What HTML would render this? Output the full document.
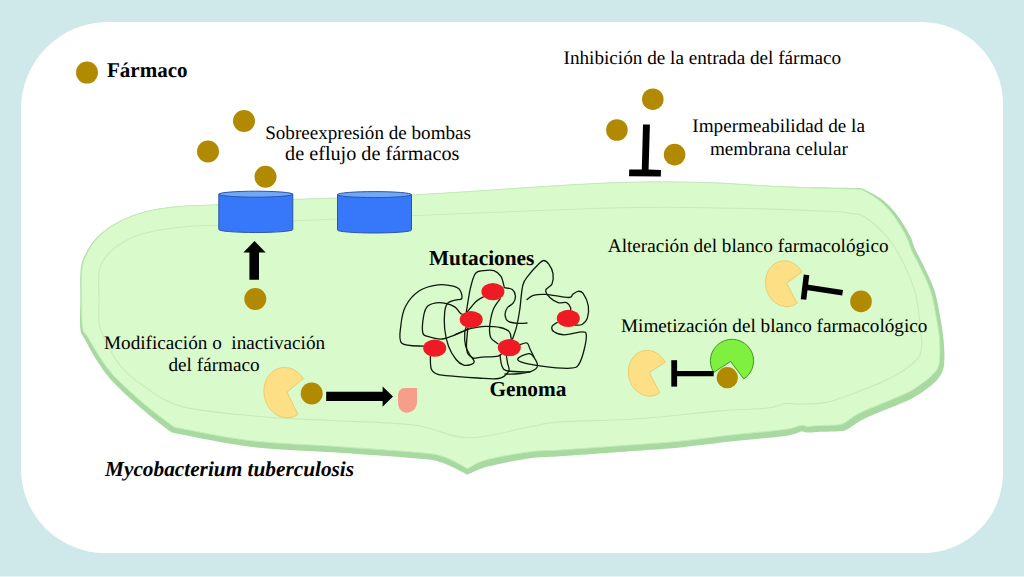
<!DOCTYPE html>
<html><head><meta charset="utf-8">
<style>
html,body{margin:0;padding:0;width:1024px;height:577px;overflow:hidden;background:#cfe8ea}
svg{display:block}
text{font-family:"Liberation Serif",serif;fill:#000;white-space:pre;text-rendering:geometricPrecision}
.r{font-size:19.2px}
.b{font-weight:bold}
</style></head><body>
<svg width="1024" height="577" viewBox="0 0 1024 577">
<rect x="0" y="0" width="1024" height="577" fill="#cfe8ea"/>
<rect x="0" y="576" width="1024" height="1" fill="#e6f6f6"/>
<path fill="#ffffff" d="M108,22 L921,22 A82,82 0 0 1 1003,104 L1003,473 A80,80 0 0 1 923,553 L105,553 A84,84 0 0 1 21,469 L21,109 A87,87 0 0 1 108,22 Z"/>

<!-- cell -->
<g id="cell">
<path fill="#a7d9a1" d="M80.4,300.0 C80.5,290.1 79.8,277.2 80.7,269.5 C81.6,261.8 83.0,259.1 85.6,253.9 C88.1,248.7 91.4,243.2 96.0,238.3 C100.6,233.4 106.1,228.7 113.3,224.5 C120.5,220.3 129.2,216.1 139.3,213.2 C149.4,210.2 160.7,208.2 174.0,206.8 C187.3,205.4 201.3,205.6 219.0,204.5 C236.7,203.4 248.2,201.6 280.0,200.0 C311.8,198.4 356.7,197.8 410.0,195.0 C463.3,192.2 551.7,185.4 600.0,183.3 C648.3,181.2 669.7,181.8 700.0,182.3 C730.3,182.9 755.0,185.6 782.0,186.6 C809.0,187.6 848.7,187.9 862.0,188.2 C865.0,189.8 874.8,194.4 880.0,198.0 C885.2,201.6 889.1,205.6 893.0,210.0 C896.9,214.4 900.5,219.8 903.5,224.5 C906.5,229.2 909.1,233.9 911.0,238.0 C912.9,242.1 913.0,244.5 915.0,249.0 C917.0,253.5 919.9,258.0 923.1,264.8 C926.3,271.6 931.4,281.5 934.2,289.8 C937.0,298.1 938.2,306.3 939.8,314.7 C941.4,323.1 942.9,331.4 943.6,340.0 C944.3,348.6 945.0,359.4 943.9,366.0 C942.8,372.6 940.2,375.8 937.0,379.9 C933.8,383.9 929.1,387.1 924.8,390.3 C920.5,393.5 917.4,395.7 911.0,398.9 C904.6,402.1 894.8,405.8 886.7,409.3 C878.6,412.8 869.0,416.3 862.4,419.7 C855.8,423.1 851.1,427.6 847.0,429.5 C842.9,431.4 843.0,430.9 838.0,431.3 C833.0,431.7 822.5,431.7 817.3,431.9 C812.1,432.1 809.3,432.6 806.6,432.5 C803.9,432.4 804.8,431.0 801.3,431.6 C797.8,432.2 796.9,434.4 785.5,436.0 C774.1,437.6 750.3,439.4 732.7,441.3 C715.1,443.2 695.8,445.9 680.0,447.5 C664.2,449.1 658.0,449.3 638.0,450.8 C618.0,452.3 578.0,455.1 560.0,456.3 C542.0,457.6 542.0,456.6 530.0,458.3 C518.0,460.0 498.4,463.8 488.0,466.5 C477.6,469.2 470.8,473.3 467.4,474.7 C463.1,472.6 450.3,465.1 441.4,462.4 C432.5,459.7 432.2,460.0 414.0,458.3 C395.8,456.6 359.3,454.2 332.0,452.3 C304.7,450.4 276.7,450.1 250.0,446.8 C223.3,443.5 184.8,435.0 171.8,432.6 C167.9,429.6 155.8,420.5 148.4,414.4 C141.0,408.3 134.1,402.3 127.6,396.2 C121.1,390.1 114.6,384.1 109.4,378.0 C104.2,371.9 100.5,366.3 96.4,359.8 C92.3,353.3 87.4,344.2 84.7,339.0 C82.0,333.8 81.0,335.1 80.3,328.6 C79.6,322.1 80.3,309.9 80.4,300.0 Z"/>
<path fill="#d9faca" stroke="#c3ebbb" stroke-width="1" d="M81.6,300.0 C81.5,290.3 81.0,277.3 81.9,269.7 C82.7,262.1 84.1,259.5 86.6,254.4 C89.0,249.2 92.1,243.8 96.7,238.9 C101.2,234.0 106.5,229.3 113.6,225.0 C120.7,220.8 129.3,216.6 139.4,213.5 C149.5,210.5 160.7,208.4 174.0,206.9 C187.3,205.4 201.3,205.7 219.0,204.6 C236.7,203.4 248.2,201.7 280.0,200.1 C311.8,198.5 356.7,197.8 410.0,195.1 C463.3,192.3 551.7,185.5 600.0,183.3 C648.3,181.2 669.7,181.8 700.0,182.4 C730.3,183.0 755.0,185.6 782.0,186.7 C809.0,187.9 848.4,188.8 861.7,189.2 C864.6,191.0 873.8,196.1 878.6,199.9 C883.5,203.7 887.1,207.6 890.8,212.0 C894.4,216.4 897.8,221.7 900.7,226.3 C903.5,230.9 905.9,235.5 907.7,239.5 C909.5,243.5 909.6,246.0 911.6,250.5 C913.7,254.9 916.7,259.6 919.8,266.4 C923.0,273.1 927.9,282.8 930.6,291.0 C933.3,299.2 934.4,307.2 935.9,315.4 C937.4,323.6 939.1,332.1 939.6,340.3 C940.1,348.6 940.1,358.9 938.8,364.8 C937.5,370.7 934.6,372.4 931.6,375.7 C928.6,379.0 924.5,381.7 920.5,384.5 C916.6,387.3 913.8,389.5 907.7,392.5 C901.6,395.6 892.0,399.3 883.9,402.8 C875.8,406.3 865.6,410.0 859.1,413.4 C852.5,416.7 848.0,421.0 844.4,423.0 C840.7,424.9 841.8,424.5 837.3,424.9 C832.7,425.4 822.1,425.5 817.0,425.7 C812.0,426.0 809.6,426.5 806.9,426.5 C804.3,426.4 804.8,424.9 801.0,425.4 C797.2,425.9 795.8,427.9 784.3,429.5 C772.8,431.1 749.5,433.0 732.0,434.9 C714.5,436.9 695.1,439.6 679.4,441.2 C663.6,442.8 657.5,443.1 637.5,444.5 C617.6,446.0 577.6,448.8 559.6,450.1 C541.5,451.3 541.4,450.2 529.2,451.9 C516.9,453.5 496.3,457.1 486.1,459.9 C475.8,462.7 470.7,467.2 467.6,468.7 C463.5,466.7 452.0,459.3 443.2,456.6 C434.4,453.8 433.1,454.0 414.7,452.2 C396.2,450.5 359.7,448.2 332.4,446.2 C305.1,444.3 277.1,443.9 250.8,440.7 C224.4,437.6 187.0,429.4 174.2,427.2 C170.5,424.3 159.0,416.0 151.8,410.2 C144.7,404.4 137.6,398.3 131.2,392.4 C124.7,386.5 118.3,380.7 113.1,374.9 C107.9,369.1 104.1,363.8 100.0,357.5 C95.8,351.3 90.9,342.3 88.0,337.4 C85.1,332.5 83.7,334.4 82.6,328.1 C81.5,321.9 81.7,309.7 81.6,300.0 Z"/>
<path fill="none" stroke="#c6ecbd" stroke-width="1.1" d="M99.0,300.0 C99.1,291.2 97.7,277.5 99.5,269.5 C101.3,261.5 104.7,257.4 109.9,252.2 C115.1,247.0 122.9,241.9 130.7,238.3 C138.5,234.7 146.6,232.5 156.7,230.5 C166.8,228.5 180.9,227.1 191.3,226.2 C201.7,225.3 204.2,226.1 219.0,225.3 C233.8,224.5 216.5,224.3 280.0,221.5 C343.5,218.7 524.5,210.4 600.0,208.2 C675.5,206.0 694.1,207.6 732.8,208.2 C771.5,208.8 812.7,210.6 832.4,211.5 C852.1,212.4 845.7,212.7 851.0,213.5 C856.3,214.3 857.9,212.5 864.0,216.5 C870.1,220.5 880.9,229.8 887.4,237.4 C893.9,245.0 898.3,253.0 903.0,262.3 C907.7,271.7 912.6,283.1 915.4,293.5 C918.2,303.9 919.0,315.5 920.0,324.6 C921.0,333.7 922.2,341.9 921.5,348.0 C920.8,354.1 920.1,356.3 915.5,361.0 C910.9,365.7 903.3,371.2 893.6,376.4 C883.9,381.6 868.5,387.7 857.2,392.0 C845.9,396.3 835.5,400.4 826.0,402.4 C816.5,404.4 806.8,403.9 800.0,404.1 C793.2,404.3 790.8,402.9 785.5,403.5 C780.2,404.1 778.9,406.8 768.0,408.0 C757.1,409.2 741.7,409.1 720.0,410.9 C698.3,412.7 664.7,417.0 638.0,418.8 C611.3,420.6 578.0,420.6 560.0,421.9 C542.0,423.2 545.4,424.1 530.0,426.8 C514.6,429.5 486.7,438.1 467.4,437.8 C448.1,437.5 436.9,427.9 414.0,425.0 C391.1,422.1 355.7,421.9 330.0,420.5 C304.3,419.1 284.6,418.8 260.0,416.5 C235.4,414.2 201.7,411.7 182.2,406.6 C162.7,401.5 153.6,392.7 143.2,385.8 C132.8,378.9 126.3,373.0 119.8,365.0 C113.3,357.0 107.5,345.2 104.0,338.0 C100.5,330.8 99.8,328.3 99.0,322.0 C98.2,315.7 98.9,308.8 99.0,300.0 Z"/>
</g>


<!-- pumps -->
<g stroke="#2b55a8" stroke-width="1">
<path fill="#3778fb" d="M218.8,194.2 L218.8,229.5 A37,3 0 0 0 292.8,229.5 L292.8,194.2 Z"/>
<ellipse cx="255.8" cy="194.2" rx="37" ry="3" fill="#6ea8f6"/>
<path fill="#3778fb" d="M337.5,194.6 L337.5,230 A37,3 0 0 0 411.5,230 L411.5,194.6 Z"/>
<ellipse cx="374.5" cy="194.6" rx="37" ry="3" fill="#6ea8f6"/>
</g>
<!-- up arrow -->
<path fill="#000" d="M249.4,279.7 L249.4,252.6 L243.4,252.6 L254.5,241 L265.7,252.6 L259,252.6 L259,279.7 Z"/>
<!-- inhibition T top -->
<path fill="#000" d="M643,124.6 L649.9,124.6 L648.6,169.6 L661,170 L660.8,176.6 L629,176.2 L629.2,169.5 L641.8,169.6 Z"/>
<!-- pacmen -->
<g id="pacs" fill="#fddf86" stroke="#eccb6a" stroke-width="1">
<path d="M786.70,283.20 L796.97,303.18 L795.51,304.15 L793.95,304.97 L792.31,305.63 L790.61,306.12 L788.86,306.44 L787.10,306.57 L785.33,306.52 L783.59,306.29 L781.88,305.90 L780.24,305.35 L778.65,304.66 L777.15,303.85 L775.74,302.93 L774.42,301.91 L773.19,300.80 L772.06,299.63 L771.02,298.39 L770.08,297.10 L769.23,295.77 L768.48,294.41 L767.81,293.01 L767.23,291.58 L766.73,290.13 L766.33,288.66 L766.00,287.17 L765.77,285.66 L765.61,284.13 L765.55,282.60 L765.58,281.05 L765.70,279.49 L765.92,277.93 L766.25,276.37 L766.68,274.82 L767.22,273.29 L767.87,271.77 L768.65,270.30 L769.55,268.87 L770.58,267.51 L771.72,266.22 L772.99,265.04 L774.38,263.97 L775.86,263.04 L777.45,262.25 L779.10,261.63 L780.82,261.18 L782.57,260.91 L784.33,260.83 L786.10,260.92 L787.83,261.19 L789.53,261.62 L791.16,262.21 L792.72,262.93 L794.20,263.77 L795.59,264.72 L796.89,265.76 L798.10,266.88 L799.21,268.07 L800.22,269.32 L801.14,270.62 L801.96,271.96 Z"/>
<path d="M649.20,372.70 L659.89,392.68 L658.41,393.66 L656.84,394.50 L655.19,395.17 L653.47,395.67 L651.71,395.99 L649.93,396.12 L648.15,396.06 L646.39,395.83 L644.67,395.43 L643.01,394.87 L641.42,394.17 L639.91,393.34 L638.49,392.40 L637.16,391.37 L635.93,390.25 L634.80,389.06 L633.76,387.80 L632.83,386.50 L631.98,385.15 L631.23,383.77 L630.57,382.35 L630.00,380.91 L629.51,379.44 L629.11,377.95 L628.80,376.45 L628.58,374.92 L628.45,373.38 L628.40,371.82 L628.45,370.26 L628.60,368.69 L628.84,367.12 L629.19,365.54 L629.65,363.98 L630.23,362.44 L630.92,360.92 L631.74,359.44 L632.69,358.02 L633.76,356.67 L634.95,355.40 L636.27,354.24 L637.70,353.20 L639.23,352.31 L640.86,351.57 L642.55,351.00 L644.30,350.61 L646.07,350.41 L647.86,350.39 L649.63,350.56 L651.36,350.89 L653.05,351.39 L654.67,352.04 L656.21,352.82 L657.67,353.72 L659.03,354.72 L660.30,355.81 L661.47,356.97 L662.54,358.20 L663.52,359.49 L664.40,360.82 L665.19,362.19 Z"/>
<path d="M287.00,392.10 L297.95,414.48 L296.33,415.47 L294.62,416.31 L292.82,416.96 L290.97,417.44 L289.08,417.72 L287.17,417.81 L285.27,417.71 L283.39,417.42 L281.56,416.97 L279.79,416.35 L278.10,415.58 L276.49,414.69 L274.98,413.68 L273.56,412.56 L272.24,411.37 L271.02,410.09 L269.91,408.75 L268.90,407.36 L267.98,405.93 L267.16,404.45 L266.44,402.94 L265.81,401.40 L265.27,399.83 L264.82,398.24 L264.46,396.63 L264.20,395.00 L264.02,393.36 L263.94,391.70 L263.96,390.03 L264.07,388.35 L264.29,386.66 L264.62,384.98 L265.05,383.30 L265.61,381.64 L266.28,380.00 L267.08,378.39 L268.02,376.83 L269.08,375.33 L270.27,373.92 L271.60,372.60 L273.05,371.39 L274.61,370.33 L276.28,369.41 L278.03,368.66 L279.86,368.09 L281.73,367.70 L283.63,367.51 L285.54,367.52 L287.43,367.71 L289.29,368.07 L291.09,368.61 L292.83,369.30 L294.48,370.13 L296.04,371.08 L297.51,372.14 L298.88,373.30 L300.15,374.53 L301.32,375.84 L302.39,377.20 L303.35,378.62 Z"/>
</g>
<path fill="#80f040" stroke="#3f9a1e" stroke-width="1" d="M730.6,361.4 L743.8,379 A21.6,21.6 0 1 0 713.7,372.4 Z"/>
<!-- inhibitors -->
<g stroke="#000" fill="none">
<line x1="806.5" y1="274.8" x2="803.5" y2="299.5" stroke-width="5.6"/>
<line x1="805" y1="287" x2="842.6" y2="292.7" stroke-width="5.7"/>
<line x1="674.2" y1="360.2" x2="674.2" y2="386.6" stroke-width="5.8"/>
<line x1="674.2" y1="373.6" x2="713.7" y2="373.6" stroke-width="5.4"/>
</g>
<g fill="#b18a02">
<circle cx="861" cy="301.4" r="10.8"/>
<circle cx="727.3" cy="377.7" r="10.6"/>
<circle cx="311.7" cy="393.5" r="11"/>
</g>
<!-- right arrow -->
<path fill="#000" d="M326.2,391.8 L382.6,391.8 L382.6,386.6 L393,396.5 L382.6,406.8 L382.6,401 L326.2,401 Z"/>
<!-- salmon piece -->
<path fill="#f69e8a" d="M405,388 L417,388 L417,402 C417,408.5 412,412.5 406.5,412.7 C401,412.5 398,408 398,402 L398,396 C398,391 400.5,388 405,388 Z"/>

<!-- genome -->
<g fill="none" stroke="#0d1a0d" stroke-width="1.3" stroke-linejoin="round" stroke-linecap="round">
<path d="M423.7,346.2 C420.1,345.7 405.6,346.8 401.8,343.3 C398.0,339.8 400.3,331.4 400.9,325.2 C401.5,319.0 402.6,311.9 405.6,306.2 C408.6,300.5 413.6,294.6 419.0,291.0 C424.4,287.4 432.3,285.7 438.0,284.9 C443.7,284.1 449.6,285.3 453.2,286.2 C456.8,287.1 458.5,287.9 459.9,290.0 C461.3,292.1 462.6,296.9 461.8,298.6 C461.0,300.3 457.5,299.3 455.1,300.1 C452.7,300.9 449.2,301.3 447.5,303.3 C445.8,305.3 445.2,307.6 444.7,311.9 C444.2,316.2 444.1,323.3 444.7,329.0 C445.3,334.7 446.6,341.1 448.5,346.2 C450.4,351.3 453.6,356.3 456.1,359.5 C458.6,362.7 461.2,364.4 463.7,365.2 C466.2,366.0 469.6,364.9 471.3,364.3 C473.1,363.7 474.4,362.8 474.2,361.4 C474.0,360.0 471.8,358.2 470.4,355.7 C469.0,353.2 466.6,350.0 465.6,346.2 C464.7,342.4 464.5,336.4 464.7,332.9 C464.9,329.4 466.6,326.3 467.0,325.0"/>
<path d="M468.5,316.0 C467.2,315.6 463.1,315.3 460.9,313.8 C458.7,312.3 457.7,308.9 455.1,307.1 C452.6,305.4 448.8,304.0 445.6,303.3 C442.4,302.6 439.1,302.3 436.1,302.8 C433.1,303.3 429.6,304.1 427.5,306.2 C425.4,308.3 424.5,311.2 423.7,315.7 C422.9,320.1 422.0,329.4 422.8,332.9 C423.6,336.4 425.3,335.7 428.5,336.7 C431.7,337.7 437.4,339.3 441.8,339.0 C446.2,338.7 450.7,336.5 455.1,334.8 C459.6,333.1 466.3,330.0 468.5,329.0"/>
<path d="M430.4,355.7 C430.5,357.9 430.0,365.9 431.3,369.0 C432.6,372.1 434.0,373.2 438.0,374.4 C442.0,375.6 448.4,375.7 455.1,376.3 C461.8,376.9 470.8,377.6 478.0,378.0 C485.2,378.4 493.4,379.6 498.5,378.5 C503.6,377.4 507.2,373.8 508.7,371.3 C510.2,368.8 508.0,365.9 507.6,363.4 C507.2,360.8 506.6,357.2 506.4,356.0"/>
<path d="M466.3,312.1 C467.0,308.2 468.8,295.1 470.3,288.6 C471.8,282.1 473.3,276.3 475.5,273.3 C477.7,270.3 480.5,271.1 483.6,270.6 C486.7,270.2 491.0,269.7 493.9,270.6 C496.8,271.6 499.3,273.6 501.0,276.3 C502.7,279.0 503.6,284.9 504.1,286.6"/>
<path d="M467.3,312.1 C468.7,310.4 472.8,304.4 475.5,301.9 C478.2,299.3 482.2,297.6 483.6,296.8"/>
<path d="M504.1,287.6 C505.5,287.9 510.4,288.2 512.3,289.6 C514.2,291.0 515.2,293.6 515.4,295.8 C515.6,298.0 514.7,300.9 513.3,302.9 C511.9,304.9 508.6,305.9 507.2,308.0 C505.8,310.1 504.9,313.0 505.1,315.2 C505.3,317.4 506.0,319.9 508.2,321.3 C510.4,322.7 515.3,323.1 518.4,323.4 C521.5,323.7 525.6,323.1 527.0,323.0"/>
<path d="M500.2,298.8 C499.1,300.4 495.3,305.0 493.7,308.5 C492.1,312.0 491.2,316.4 490.5,320.0 C489.8,323.6 489.4,327.0 489.5,330.0 C489.6,333.0 489.6,335.7 491.0,338.0 C492.4,340.3 496.8,342.8 498.0,343.8"/>
<path d="M455.0,334.6 C457.1,333.8 463.9,330.7 467.3,329.5 C470.7,328.3 472.4,328.0 475.5,327.5 C478.6,327.0 481.6,326.4 485.7,326.4 C489.8,326.4 496.1,326.6 500.0,327.5 C503.9,328.4 507.3,329.6 509.2,331.6 C511.1,333.6 510.9,338.0 511.3,339.3"/>
<path d="M474.4,358.2 C475.6,358.0 477.7,357.5 481.6,357.1 C485.5,356.8 494.4,357.0 498.0,356.1 C501.6,355.2 502.2,352.7 503.0,352.0"/>
<path d="M512.5,339.1 C513.2,337.0 515.4,331.5 516.6,326.6 C517.8,321.8 518.7,316.9 519.7,310.0 C520.8,303.1 521.3,290.9 522.9,285.0 C524.5,279.1 526.5,278.1 529.1,274.6 C531.7,271.1 536.1,266.6 538.5,264.2 C540.9,261.8 541.9,260.5 543.6,260.5 C545.3,260.5 547.2,262.0 548.8,264.2 C550.4,266.4 552.5,270.3 553.0,273.6 C553.5,276.9 553.2,281.2 552.0,284.0 C550.8,286.8 546.1,287.9 545.7,290.2 C545.4,292.4 547.8,295.4 549.9,297.5 C552.0,299.6 555.4,301.8 558.2,302.7 C561.0,303.6 564.4,301.8 566.5,302.7 C568.6,303.6 570.1,306.3 570.7,307.9 C571.3,309.4 570.1,311.3 570.0,312.0"/>
<path d="M527.0,299.6 C528.0,298.9 530.2,296.3 533.3,295.4 C536.4,294.5 539.8,294.0 545.7,294.4 C551.6,294.8 564.1,297.5 568.6,297.5 C573.1,297.5 571.2,295.4 572.7,294.4 C574.2,293.4 576.2,291.5 577.9,291.3 C579.6,291.1 581.4,290.9 583.1,293.3 C584.8,295.7 587.6,301.6 588.3,305.8 C589.0,310.0 588.3,315.2 587.3,318.3 C586.3,321.4 584.1,323.4 582.1,324.5 C580.1,325.6 576.2,324.9 575.0,325.0"/>
<path d="M557.2,322.4 C556.3,323.1 552.5,325.0 552.0,326.6 C551.5,328.2 551.9,330.4 554.0,331.8 C556.1,333.2 559.7,334.9 564.4,334.9 C569.1,334.9 578.5,331.8 582.1,331.8 C585.8,331.8 585.9,331.9 586.3,334.9 C586.6,337.8 585.4,344.6 584.2,349.5 C583.0,354.4 581.2,360.9 579.0,364.0 C576.8,367.1 576.9,367.8 570.7,368.2 C564.5,368.6 549.9,367.2 541.6,366.1 C533.3,365.1 524.6,363.3 520.8,361.9 C517.0,360.5 517.3,359.2 518.7,357.8 C520.1,356.4 526.5,353.6 529.1,353.6 C531.7,353.6 532.9,355.7 534.3,357.8 C535.7,359.9 537.9,363.9 537.4,366.1 C536.9,368.4 534.9,370.0 531.2,371.3 C527.5,372.6 519.4,373.6 515.0,374.0 C510.6,374.4 506.7,374.0 505.0,374.0"/>
<path d="M519.0,345.0 C520.3,344.7 525.2,342.3 527.0,343.0 C528.8,343.7 528.8,346.7 530.0,349.0 C531.2,351.3 533.3,355.7 534.0,357.0"/>
<path d="M500.0,355.0 C500.3,356.8 500.7,363.3 502.0,366.0 C503.3,368.7 503.3,370.0 508.0,371.0 C512.7,372.0 526.3,371.8 530.0,372.0"/>
<path d="M467.8,328.0 C467.6,330.8 466.5,340.7 466.5,345.0 C466.5,349.3 466.8,351.8 468.0,354.0 C469.2,356.2 473.0,357.8 474.0,358.5"/>
</g>
<g fill="#ee1b24">
<ellipse cx="492.9" cy="291.7" rx="11.5" ry="8.6"/>
<ellipse cx="471.2" cy="319.5" rx="11.5" ry="8.6"/>
<ellipse cx="434.7" cy="348.2" rx="11.5" ry="8.6"/>
<ellipse cx="509.3" cy="347.6" rx="11.5" ry="8.6"/>
<ellipse cx="568.3" cy="318.4" rx="11.5" ry="8.6"/>
</g>
<!-- /genome -->
<!-- brown dots -->
<g fill="#b18a02">
<circle cx="87" cy="72.6" r="11"/>
<circle cx="244" cy="121" r="11"/>
<circle cx="208" cy="151.5" r="11"/>
<circle cx="265.5" cy="176.7" r="11"/>
<circle cx="652.8" cy="99.2" r="10.8"/>
<circle cx="616.9" cy="130" r="10.8"/>
<circle cx="674.6" cy="154.6" r="10.8"/>
<circle cx="255.3" cy="299" r="11"/>
</g>

<!-- texts -->
<text class="b" x="107" y="76.6" style="font-size:21px">Fármaco</text>
<text class="r" x="265.2" y="138.9" style="font-size:19.1px">Sobreexpresión de bombas</text>
<text class="r" x="285.1" y="160.1" style="font-size:20.2px">de eflujo de fármacos</text>
<text class="r" x="563.5" y="63.6">Inhibición de la entrada del fármaco</text>
<text class="r" x="692.3" y="131.9">Impermeabilidad de la</text>
<text class="r" x="709.9" y="154.5">membrana celular</text>
<text class="r" x="607.8" y="251.7">Alteración del blanco farmacológico</text>
<text class="b" x="429" y="264.8" style="font-size:21.3px">Mutaciones</text>
<text class="r" x="621" y="331.7">Mimetización del blanco farmacológico</text>
<text class="r" x="104" y="349">Modificación o  inactivación</text>
<text class="r" x="168.5" y="371.3">del fármaco</text>
<text class="b" x="489.5" y="396.4" style="font-size:21.3px">Genoma</text>
<text class="b" x="105" y="476.3" style="font-size:21.3px;font-style:italic">Mycobacterium tuberculosis</text>
</svg>
</body></html>
